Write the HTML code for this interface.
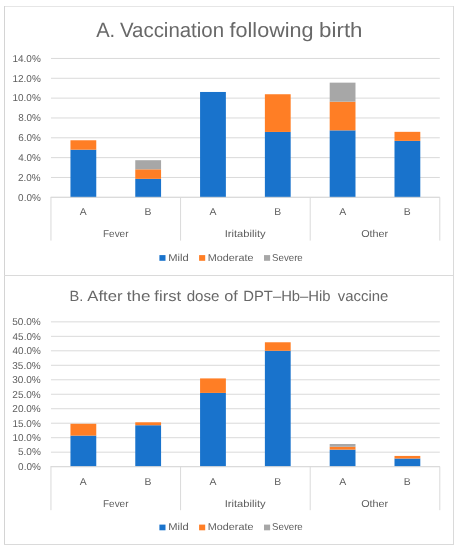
<!DOCTYPE html>
<html lang="en"><head><meta charset="utf-8"><title>Vaccination adverse events charts</title>
<style>html,body{margin:0;padding:0;background:#fff}svg{display:block}</style>
</head><body>
<svg width="459" height="550" viewBox="0 0 459 550" font-family="'Liberation Sans', Arial, sans-serif" fill="#5e5e5e" text-rendering="geometricPrecision">
<defs><filter id="soft" x="0" y="0" width="459" height="550" filterUnits="userSpaceOnUse"><feGaussianBlur stdDeviation="0.4"/></filter></defs>
<rect x="0" y="0" width="459" height="550" fill="#fff"/>
<rect x="4" y="6" width="450" height="1" fill="#e6e6e6"/>
<rect x="4" y="6" width="1" height="539" fill="#d4d4d4"/>
<rect x="453" y="6" width="1" height="539" fill="#dadada"/>
<rect x="4" y="544" width="450" height="1" fill="#dadada"/>
<rect x="4" y="275" width="450" height="1" fill="#dadada"/>
<rect x="50.95" y="196.80" width="388.86" height="1" fill="#dadada"/>
<rect x="50.95" y="176.96" width="388.86" height="1" fill="#dadada"/>
<rect x="50.95" y="157.13" width="388.86" height="1" fill="#dadada"/>
<rect x="50.95" y="137.29" width="388.86" height="1" fill="#dadada"/>
<rect x="50.95" y="117.46" width="388.86" height="1" fill="#dadada"/>
<rect x="50.95" y="97.62" width="388.86" height="1" fill="#dadada"/>
<rect x="50.95" y="77.78" width="388.86" height="1" fill="#dadada"/>
<rect x="50.95" y="57.95" width="388.86" height="1" fill="#dadada"/>
<rect x="70.46" y="149.69" width="25.8" height="47.61" fill="#1973cc"/>
<rect x="70.46" y="140.27" width="25.8" height="9.42" fill="#ff7e25"/>
<rect x="135.27" y="178.85" width="25.8" height="18.45" fill="#1973cc"/>
<rect x="135.27" y="169.33" width="25.8" height="9.52" fill="#ff7e25"/>
<rect x="135.27" y="160.21" width="25.8" height="9.12" fill="#a7a7a7"/>
<rect x="200.07" y="91.97" width="25.8" height="105.33" fill="#1973cc"/>
<rect x="264.88" y="131.94" width="25.8" height="65.36" fill="#1973cc"/>
<rect x="264.88" y="94.25" width="25.8" height="37.69" fill="#ff7e25"/>
<rect x="329.69" y="130.35" width="25.8" height="66.95" fill="#1973cc"/>
<rect x="329.69" y="101.69" width="25.8" height="28.66" fill="#ff7e25"/>
<rect x="329.69" y="82.65" width="25.8" height="19.04" fill="#a7a7a7"/>
<rect x="394.50" y="140.87" width="25.8" height="56.43" fill="#1973cc"/>
<rect x="394.50" y="131.84" width="25.8" height="9.03" fill="#ff7e25"/>
<rect x="50.45" y="196.80" width="389.36" height="1" fill="#dadada"/>
<rect x="50.45" y="197.30" width="1" height="43.30" fill="#dadada"/>
<rect x="180.07" y="197.30" width="1" height="43.30" fill="#dadada"/>
<rect x="309.69" y="197.30" width="1" height="43.30" fill="#dadada"/>
<rect x="439.31" y="197.30" width="1" height="43.30" fill="#dadada"/>
<rect x="159.4" y="255.1" width="6.1" height="5.7" fill="#1973cc"/>
<rect x="199.1" y="255.1" width="6.1" height="5.7" fill="#ff7e25"/>
<rect x="264.0" y="255.1" width="6.1" height="5.7" fill="#a7a7a7"/>
<rect x="50.95" y="466.15" width="388.86" height="1" fill="#dadada"/>
<rect x="50.95" y="451.67" width="388.86" height="1" fill="#dadada"/>
<rect x="50.95" y="437.19" width="388.86" height="1" fill="#dadada"/>
<rect x="50.95" y="422.71" width="388.86" height="1" fill="#dadada"/>
<rect x="50.95" y="408.23" width="388.86" height="1" fill="#dadada"/>
<rect x="50.95" y="393.75" width="388.86" height="1" fill="#dadada"/>
<rect x="50.95" y="379.27" width="388.86" height="1" fill="#dadada"/>
<rect x="50.95" y="364.79" width="388.86" height="1" fill="#dadada"/>
<rect x="50.95" y="350.31" width="388.86" height="1" fill="#dadada"/>
<rect x="50.95" y="335.83" width="388.86" height="1" fill="#dadada"/>
<rect x="50.95" y="321.35" width="388.86" height="1" fill="#dadada"/>
<rect x="70.46" y="435.60" width="25.8" height="31.05" fill="#1973cc"/>
<rect x="70.46" y="423.79" width="25.8" height="11.82" fill="#ff7e25"/>
<rect x="135.27" y="425.24" width="25.8" height="41.41" fill="#1973cc"/>
<rect x="135.27" y="422.28" width="25.8" height="2.95" fill="#ff7e25"/>
<rect x="200.07" y="392.92" width="25.8" height="73.73" fill="#1973cc"/>
<rect x="200.07" y="378.41" width="25.8" height="14.51" fill="#ff7e25"/>
<rect x="264.88" y="350.75" width="25.8" height="115.90" fill="#1973cc"/>
<rect x="264.88" y="342.27" width="25.8" height="8.49" fill="#ff7e25"/>
<rect x="329.69" y="449.65" width="25.8" height="17.00" fill="#1973cc"/>
<rect x="329.69" y="446.78" width="25.8" height="2.87" fill="#ff7e25"/>
<rect x="329.69" y="444.00" width="25.8" height="2.78" fill="#a7a7a7"/>
<rect x="394.50" y="458.51" width="25.8" height="8.14" fill="#1973cc"/>
<rect x="394.50" y="455.93" width="25.8" height="2.58" fill="#ff7e25"/>
<rect x="50.45" y="466.15" width="389.36" height="1" fill="#dadada"/>
<rect x="50.45" y="466.65" width="1" height="43.55" fill="#dadada"/>
<rect x="180.07" y="466.65" width="1" height="43.55" fill="#dadada"/>
<rect x="309.69" y="466.65" width="1" height="43.55" fill="#dadada"/>
<rect x="439.31" y="466.65" width="1" height="43.55" fill="#dadada"/>
<rect x="159.4" y="524.6" width="6.1" height="5.7" fill="#1973cc"/>
<rect x="199.1" y="524.6" width="6.1" height="5.7" fill="#ff7e25"/>
<rect x="264.0" y="524.6" width="6.1" height="5.7" fill="#a7a7a7"/>
<g filter="url(#soft)">
<text x="96.15" y="37" font-size="20.6" textLength="19.03" lengthAdjust="spacingAndGlyphs" fill="#686868">A.</text>
<text x="119.97" y="37" font-size="20.6" textLength="104.09" lengthAdjust="spacingAndGlyphs" fill="#686868">Vaccination</text>
<text x="229.59" y="37" font-size="20.6" textLength="83.94" lengthAdjust="spacingAndGlyphs" fill="#686868">following</text>
<text x="319.13" y="37" font-size="20.6" textLength="43.38" lengthAdjust="spacingAndGlyphs" fill="#686868">birth</text>
<text x="69.54" y="301" font-size="14.8" textLength="13.84" lengthAdjust="spacingAndGlyphs" fill="#686868">B.</text>
<text x="87.33" y="301" font-size="14.8" textLength="35.20" lengthAdjust="spacingAndGlyphs" fill="#686868">After</text>
<text x="126.79" y="301" font-size="14.8" textLength="23.57" lengthAdjust="spacingAndGlyphs" fill="#686868">the</text>
<text x="154.34" y="301" font-size="14.8" textLength="26.75" lengthAdjust="spacingAndGlyphs" fill="#686868">first</text>
<text x="186.67" y="301" font-size="14.8" textLength="32.80" lengthAdjust="spacingAndGlyphs" fill="#686868">dose</text>
<text x="224.24" y="301" font-size="14.8" textLength="13.59" lengthAdjust="spacingAndGlyphs" fill="#686868">of</text>
<text x="243.29" y="301" font-size="14.8" textLength="87.28" lengthAdjust="spacingAndGlyphs" fill="#686868">DPT–Hb–Hib</text>
<text x="337.75" y="301" font-size="14.8" textLength="50.57" lengthAdjust="spacingAndGlyphs" fill="#686868">vaccine</text>
<text x="18.12" y="201" font-size="10" textLength="22.65" lengthAdjust="spacingAndGlyphs">0.0%</text>
<text x="18.08" y="181" font-size="10" textLength="22.62" lengthAdjust="spacingAndGlyphs">2.0%</text>
<text x="18.29" y="161" font-size="10" textLength="22.44" lengthAdjust="spacingAndGlyphs">4.0%</text>
<text x="18.16" y="141" font-size="10" textLength="22.58" lengthAdjust="spacingAndGlyphs">6.0%</text>
<text x="18.16" y="121" font-size="10" textLength="22.59" lengthAdjust="spacingAndGlyphs">8.0%</text>
<text x="12.53" y="101" font-size="10" textLength="28.23" lengthAdjust="spacingAndGlyphs">10.0%</text>
<text x="12.53" y="82" font-size="10" textLength="28.23" lengthAdjust="spacingAndGlyphs">12.0%</text>
<text x="12.53" y="62" font-size="10" textLength="28.23" lengthAdjust="spacingAndGlyphs">14.0%</text>
<text x="79.81" y="215" font-size="10" textLength="6.91" lengthAdjust="spacingAndGlyphs">A</text>
<text x="144.63" y="215" font-size="10" textLength="6.95" lengthAdjust="spacingAndGlyphs">B</text>
<text x="209.50" y="215" font-size="10" textLength="6.96" lengthAdjust="spacingAndGlyphs">A</text>
<text x="274.35" y="215" font-size="10" textLength="6.93" lengthAdjust="spacingAndGlyphs">B</text>
<text x="339.15" y="215" font-size="10" textLength="7.00" lengthAdjust="spacingAndGlyphs">A</text>
<text x="403.75" y="215" font-size="10" textLength="6.95" lengthAdjust="spacingAndGlyphs">B</text>
<text x="102.98" y="237" font-size="10" textLength="25.54" lengthAdjust="spacingAndGlyphs">Fever</text>
<text x="224.73" y="237" font-size="10" textLength="40.97" lengthAdjust="spacingAndGlyphs">Iritability</text>
<text x="361.19" y="237" font-size="10" textLength="27.02" lengthAdjust="spacingAndGlyphs">Other</text>
<text x="168.31" y="261" font-size="10" textLength="20.43" lengthAdjust="spacingAndGlyphs">Mild</text>
<text x="207.82" y="261" font-size="10" textLength="45.59" lengthAdjust="spacingAndGlyphs">Moderate</text>
<text x="272.11" y="261" font-size="10" textLength="30.64" lengthAdjust="spacingAndGlyphs">Severe</text>
<text x="18.12" y="470" font-size="10" textLength="22.65" lengthAdjust="spacingAndGlyphs">0.0%</text>
<text x="18.02" y="455" font-size="10" textLength="22.84" lengthAdjust="spacingAndGlyphs">5.0%</text>
<text x="12.53" y="441" font-size="10" textLength="28.23" lengthAdjust="spacingAndGlyphs">10.0%</text>
<text x="12.53" y="427" font-size="10" textLength="28.23" lengthAdjust="spacingAndGlyphs">15.0%</text>
<text x="12.35" y="412" font-size="10" textLength="28.39" lengthAdjust="spacingAndGlyphs">20.0%</text>
<text x="12.35" y="398" font-size="10" textLength="28.39" lengthAdjust="spacingAndGlyphs">25.0%</text>
<text x="12.25" y="383" font-size="10" textLength="28.45" lengthAdjust="spacingAndGlyphs">30.0%</text>
<text x="12.25" y="369" font-size="10" textLength="28.45" lengthAdjust="spacingAndGlyphs">35.0%</text>
<text x="12.61" y="354" font-size="10" textLength="28.09" lengthAdjust="spacingAndGlyphs">40.0%</text>
<text x="12.61" y="340" font-size="10" textLength="28.09" lengthAdjust="spacingAndGlyphs">45.0%</text>
<text x="12.21" y="325" font-size="10" textLength="28.49" lengthAdjust="spacingAndGlyphs">50.0%</text>
<text x="79.81" y="485" font-size="10" textLength="6.91" lengthAdjust="spacingAndGlyphs">A</text>
<text x="144.63" y="485" font-size="10" textLength="6.95" lengthAdjust="spacingAndGlyphs">B</text>
<text x="209.50" y="485" font-size="10" textLength="6.96" lengthAdjust="spacingAndGlyphs">A</text>
<text x="274.35" y="485" font-size="10" textLength="6.93" lengthAdjust="spacingAndGlyphs">B</text>
<text x="339.15" y="485" font-size="10" textLength="7.00" lengthAdjust="spacingAndGlyphs">A</text>
<text x="403.75" y="485" font-size="10" textLength="6.95" lengthAdjust="spacingAndGlyphs">B</text>
<text x="102.98" y="507" font-size="10" textLength="25.54" lengthAdjust="spacingAndGlyphs">Fever</text>
<text x="224.73" y="507" font-size="10" textLength="40.97" lengthAdjust="spacingAndGlyphs">Iritability</text>
<text x="361.19" y="507" font-size="10" textLength="27.02" lengthAdjust="spacingAndGlyphs">Other</text>
<text x="168.31" y="530" font-size="10" textLength="20.43" lengthAdjust="spacingAndGlyphs">Mild</text>
<text x="207.82" y="530" font-size="10" textLength="45.59" lengthAdjust="spacingAndGlyphs">Moderate</text>
<text x="272.11" y="530" font-size="10" textLength="30.64" lengthAdjust="spacingAndGlyphs">Severe</text>
</g>
</svg>
</body></html>
